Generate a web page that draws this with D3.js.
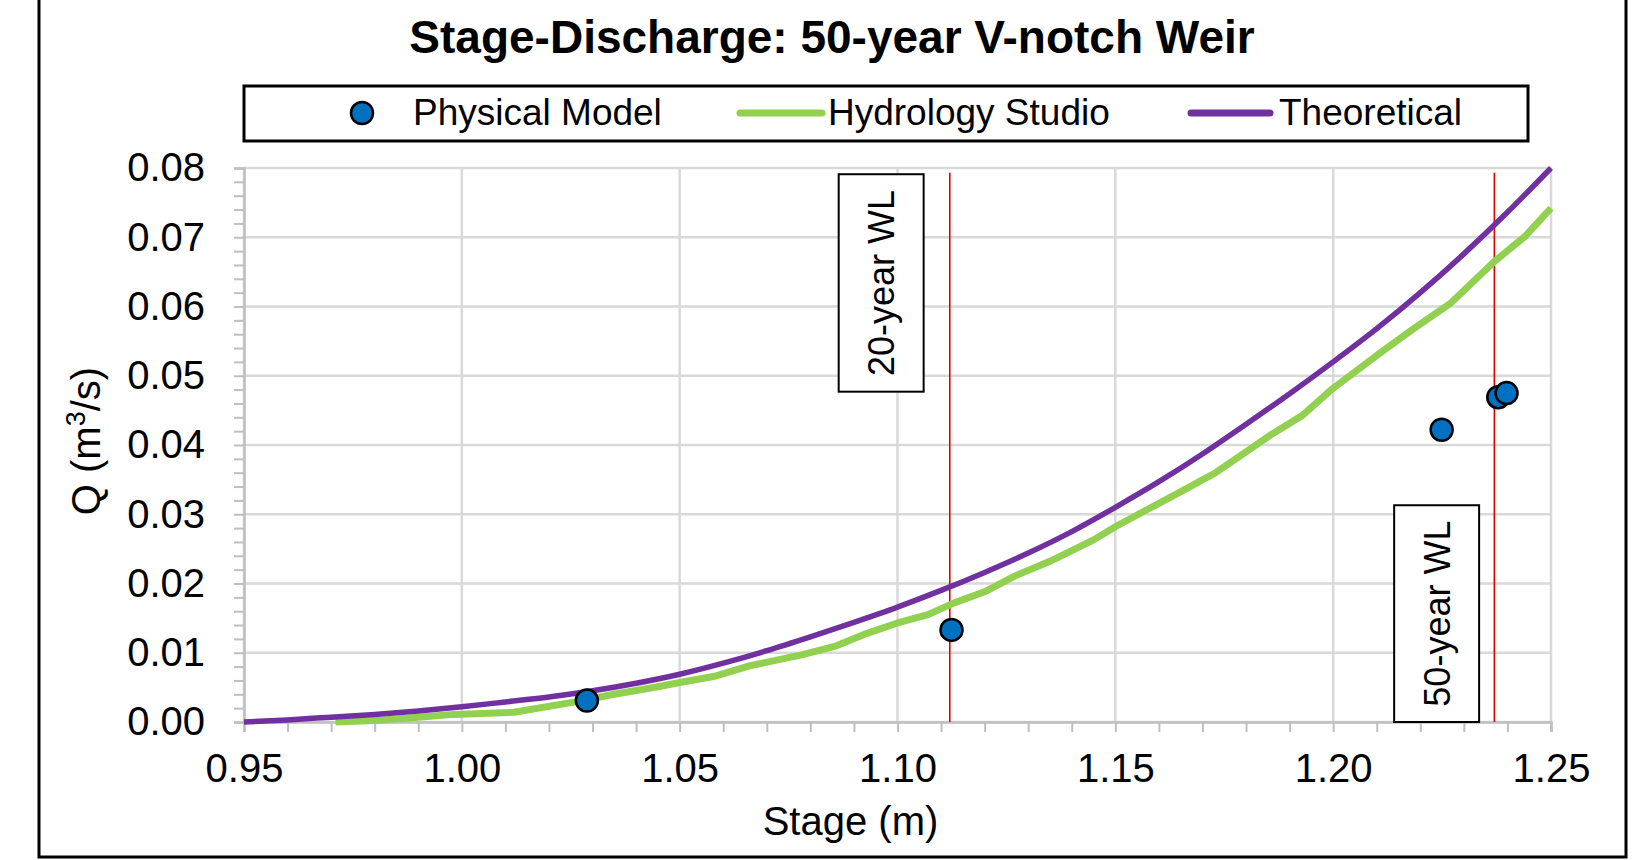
<!DOCTYPE html>
<html>
<head>
<meta charset="utf-8">
<style>
  body { margin: 0; background: #fff; }
  svg { display: block; font-family: "Liberation Sans", Arial, sans-serif; }
</style>
</head>
<body>
<div id="chart"></div>
<script src="https://d3js.org/d3.v7.min.js"></script>
<script>

  // Physical model readings: stage (m) and discharge (m3/s)
  var modelStage = [1.0287, 1.1124, 1.2249, 1.2379, 1.2398];
  var modelQ     = [0.0031, 0.0133, 0.0422, 0.0469, 0.0475];

  // Hydrology Studio rating curve
  var hydroStage = [0.971, 0.980, 0.990, 0.998, 1.012, 1.026, 1.034, 1.045, 1.050, 1.058,
                    1.066, 1.078, 1.086, 1.093, 1.100, 1.107, 1.113, 1.120, 1.127, 1.135,
                    1.145, 1.150, 1.158, 1.166, 1.173, 1.180, 1.186, 1.193, 1.200, 1.211,
                    1.218, 1.227, 1.237, 1.244, 1.250];
  var hydroQ     = [0.0000, 0.0002, 0.0007, 0.0011, 0.0014, 0.0029, 0.0039, 0.0051, 0.0057, 0.0066,
                    0.0081, 0.0097, 0.0110, 0.0128, 0.0143, 0.0155, 0.0172, 0.0188, 0.0211, 0.0232,
                    0.0263, 0.0282, 0.0309, 0.0336, 0.0360, 0.0390, 0.0416, 0.0443, 0.0482, 0.0534,
                    0.0566, 0.0605, 0.0665, 0.0701, 0.0742];

  // Theoretical V-notch curve
  var theoStage = [0.95, 0.96, 0.97, 0.98, 0.99, 1.00, 1.01, 1.02, 1.03, 1.04, 1.05,
                   1.06, 1.07, 1.08, 1.09, 1.10, 1.11, 1.12, 1.13, 1.14, 1.15,
                   1.16, 1.17, 1.18, 1.19, 1.20, 1.21, 1.22, 1.23, 1.24, 1.25];
  var theoQ     = [0.0000, 0.0003, 0.0007, 0.0011, 0.0016, 0.0022, 0.0029, 0.0036, 0.0045, 0.0056, 0.0069,
                   0.0085, 0.0103, 0.0123, 0.0144, 0.0166, 0.0190, 0.0216, 0.0244, 0.0275, 0.0310,
                   0.0347, 0.0387, 0.0430, 0.0474, 0.0520, 0.0568, 0.0620, 0.0676, 0.0736, 0.0800];

  // Design water levels
  var wlStage  = [1.112, 1.237];
  var wlLabels = ["20-year WL", "50-year WL"];

  var xTicks = [0.95, 1.00, 1.05, 1.10, 1.15, 1.20, 1.25];
  var yTicks = [0.00, 0.01, 0.02, 0.03, 0.04, 0.05, 0.06, 0.07, 0.08];

  var seriesNames = ["Physical Model", "Hydrology Studio", "Theoretical"];

  // Set the dimensions
  var W = 1650, H = 860;
  var margin = {top: 168, right: 99, bottom: 138, left: 244},
      width = W - margin.left - margin.right,
      height = H - margin.top - margin.bottom;

  var blue = "#0070C0", green = "#92D050", purple = "#7030A0", red = "#E00000";

  var root = d3.select("#chart")
    .append("svg")
      .attr("width", W)
      .attr("height", H);

  // outer chart frame (top edge is cropped off)
  root.append("rect")
    .attr("x", 39).attr("y", -10)
    .attr("width", 1587).attr("height", 867)
    .attr("fill", "none")
    .attr("stroke", "#000")
    .attr("stroke-width", 3);

  // Title
  root.append("text")
    .attr("x", 832).attr("y", 53)
    .attr("text-anchor", "middle")
    .attr("font-size", 46)
    .attr("font-weight", "bold")
    .text("Stage-Discharge: 50-year V-notch Weir");

  var svg = root.append("g")
    .attr("transform", "translate(" + margin.left + "," + margin.top + ")");

  var x = d3.scaleLinear().domain([0.95, 1.25]).range([0, width]);
  var y = d3.scaleLinear().domain([0, 0.08]).range([height, 0]);

  // Gridlines
  svg.append("g").selectAll("line.vg")
    .data(xTicks).enter().append("line")
      .attr("x1", function(d) { return x(d); })
      .attr("x2", function(d) { return x(d); })
      .attr("y1", 0).attr("y2", height)
      .attr("stroke", "#d9d9d9").attr("stroke-width", 2.5);
  svg.append("g").selectAll("line.hg")
    .data(yTicks).enter().append("line")
      .attr("x1", 0).attr("x2", width)
      .attr("y1", function(d) { return y(d); })
      .attr("y2", function(d) { return y(d); })
      .attr("stroke", "#d9d9d9").attr("stroke-width", 2.5);

  // Minor ticks
  var yMinor = d3.range(0, 81, 2).map(function(d) { return d / 1000; });
  var xMinor = d3.range(95, 126, 1).map(function(d) { return d / 100; });

  var yAxisMinor = svg.append("g")
    .call(d3.axisLeft(y).tickValues(yMinor).tickSize(10).tickFormat(""));
  var xAxisMinor = svg.append("g")
    .attr("transform", "translate(0," + height + ")")
    .call(d3.axisBottom(x).tickValues(xMinor).tickSize(10).tickFormat(""));
  [yAxisMinor, xAxisMinor].forEach(function(g) {
    g.select(".domain").attr("stroke", "#bfbfbf").attr("stroke-width", 2.5);
    g.selectAll(".tick line").attr("stroke", "#bfbfbf").attr("stroke-width", 2);
  });

  // Tick labels
  var yAxis = svg.append("g")
    .call(d3.axisLeft(y).tickValues(yTicks).tickSize(0).tickPadding(39).tickFormat(d3.format(".2f")));
  var xAxis = svg.append("g")
    .attr("transform", "translate(0," + height + ")")
    .call(d3.axisBottom(x).tickValues(xTicks).tickSize(0).tickPadding(32).tickFormat(d3.format(".2f")));
  [yAxis, xAxis].forEach(function(g) {
    g.select(".domain").remove();
    g.selectAll("text")
      .attr("font-size", 40)
      .attr("fill", "#000")
      .attr("font-family", "Liberation Sans, Arial, sans-serif");
  });

  // Axis titles
  svg.append("text")
    .attr("x", width / 2 - 47)
    .attr("y", height + 113)
    .attr("text-anchor", "middle")
    .attr("font-size", 40)
    .text("Stage (m)");

  var yLab = svg.append("text")
    .attr("transform", "translate(" + (100 - margin.left) + "," + (height / 2 - 4) + ") rotate(-90)")
    .attr("text-anchor", "middle")
    .attr("font-size", 40);
  yLab.append("tspan").text("Q (m");
  yLab.append("tspan").attr("dy", -15).attr("font-size", 27).text("3");
  yLab.append("tspan").attr("dy", 15).text("/s)");

  // Design water level lines and their labels
  var wlBox = [
    {x0: 1.0865, x1: 1.106, q0: 0.0477, q1: 0.0791},
    {x0: 1.214, x1: 1.2335, q0: 0.0, q1: 0.0313}
  ];
  wlStage.forEach(function(s, i) {
    svg.append("line")
      .attr("x1", x(s)).attr("x2", x(s))
      .attr("y1", y(0.0793)).attr("y2", height)
      .attr("stroke", red).attr("stroke-width", 1.6);
    var b = wlBox[i];
    svg.append("rect")
      .attr("x", x(b.x0)).attr("y", y(b.q1))
      .attr("width", x(b.x1) - x(b.x0))
      .attr("height", y(b.q0) - y(b.q1))
      .attr("fill", "#fff")
      .attr("stroke", "#000").attr("stroke-width", 2);
    var cx = (x(b.x0) + x(b.x1)) / 2, cy = (y(b.q0) + y(b.q1)) / 2;
    svg.append("text")
      .attr("transform", "translate(" + (cx + 13) + "," + cy + ") rotate(-90)")
      .attr("text-anchor", "middle")
      .attr("font-size", 36)
      .text(wlLabels[i]);
  });

  // Lines
  var line = d3.line()
    .x(function(d) { return x(d[0]); })
    .y(function(d) { return y(d[1]); });

  svg.append("path")
    .datum(d3.zip(hydroStage, hydroQ))
    .attr("fill", "none")
    .attr("stroke", green)
    .attr("stroke-width", 7)
    .attr("stroke-linejoin", "round")
    .attr("d", line);

  svg.append("path")
    .datum(d3.zip(theoStage, theoQ))
    .attr("fill", "none")
    .attr("stroke", purple)
    .attr("stroke-width", 5.5)
    .attr("stroke-linejoin", "round")
    .attr("d", line.curve(d3.curveMonotoneX));

  // Points
  svg.append("g").selectAll("circle")
    .data(d3.zip(modelStage, modelQ)).enter().append("circle")
      .attr("cx", function(d) { return x(d[0]); })
      .attr("cy", function(d) { return y(d[1]); })
      .attr("r", 11)
      .attr("fill", blue)
      .attr("stroke", "#000")
      .attr("stroke-width", 2.5);

  // Legend
  var lg = root.append("g");
  lg.append("rect")
    .attr("x", 244).attr("y", 86)
    .attr("width", 1284).attr("height", 55)
    .attr("fill", "#fff")
    .attr("stroke", "#000").attr("stroke-width", 3);
  lg.append("circle")
    .attr("cx", 362).attr("cy", 113).attr("r", 11)
    .attr("fill", blue).attr("stroke", "#000").attr("stroke-width", 2.5);
  lg.append("line")
    .attr("x1", 740).attr("x2", 822).attr("y1", 113).attr("y2", 113)
    .attr("stroke", green).attr("stroke-width", 7).attr("stroke-linecap", "round");
  lg.append("line")
    .attr("x1", 1191).attr("x2", 1270).attr("y1", 113).attr("y2", 113)
    .attr("stroke", purple).attr("stroke-width", 7).attr("stroke-linecap", "round");
  var lx = [413, 828, 1279];
  seriesNames.forEach(function(n, i) {
    lg.append("text")
      .attr("x", lx[i]).attr("y", 125)
      .attr("font-size", 37)
      .text(n);
  });

</script>
</body>
</html>
